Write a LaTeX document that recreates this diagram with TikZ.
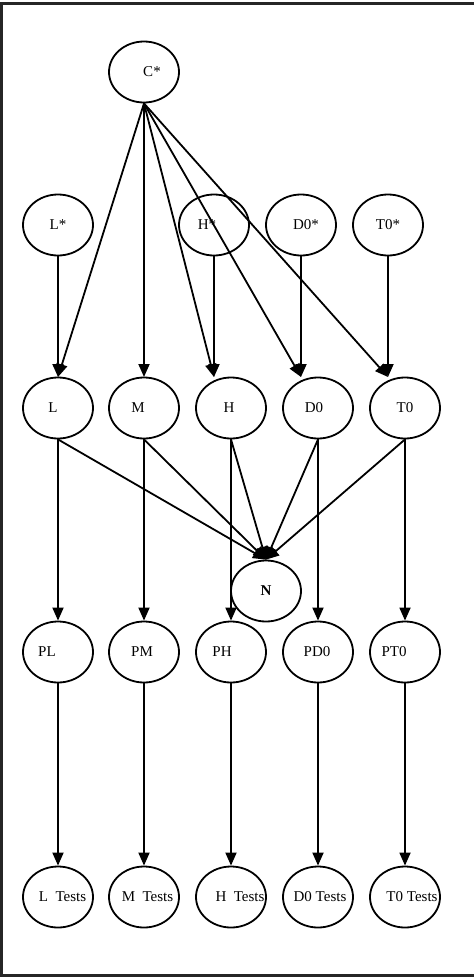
\documentclass[tikz,border=0pt]{standalone}
\usepackage{fontspec}
\setmainfont{Liberation Serif}
\usetikzlibrary{shapes.geometric,arrows.meta}
\newcommand\enode[5]{\node[ell,label={[tx,xshift=#4pt]center:#5}] (#1) at (#2,#3) {};}
\begin{document}
\begin{tikzpicture}[x=1pt,y=-1pt,
  ell/.style={draw,ellipse,line width=1.8pt,minimum width=70pt,minimum height=61pt,inner sep=0pt},
  tx/.style={font=\fontsize{15}{18}\selectfont,inner sep=0pt},
  arr/.style={line width=1.8pt,-{Triangle[length=13pt,width=11pt]}}]
\useasboundingbox (0,0) rectangle (474,977);
\draw[line width=3pt,black!85] (1.5,977) -- (1.5,3) -- (474,3);
\draw[line width=3pt,black!85] (0,975.5) -- (474,975.5);
% row 1
\enode{C}{144}{72}{8}{C*}
% row 2
\enode{Ls}{58}{225}{0}{L*}
\enode{Hs}{214}{225}{-7}{H*}
\enode{Ds}{301}{225}{5}{D0*}
\enode{Ts}{388}{225}{0}{T0*}
% row 3
\enode{L}{58}{408}{-5}{L}
\enode{M}{144}{408}{-6}{M}
\enode{H}{231}{408}{-2}{H}
\enode{D}{318}{408}{-4}{D0}
\enode{T}{405}{408}{0}{T0}
% N
\enode{N}{266}{591}{0}{\textbf{N}}
% row 4
\enode{PL}{58}{652}{-11}{PL}
\enode{PM}{144}{652}{-2}{PM}
\enode{PH}{231}{652}{-9}{PH}
\enode{PD}{318}{652}{-1}{PD0}
\enode{PT}{405}{652}{-11}{PT0}
% row 5
\enode{LT}{58}{897}{4.5}{L~~Tests}
\enode{MT}{144}{897}{3.5}{M~~Tests}
\enode{HT}{231}{897}{9}{H~~Tests}
\enode{DT}{318}{897}{2}{D0 Tests}
\enode{TT}{405}{897}{7}{T0 Tests}
% entry points
\coordinate (Lin) at (58,377);
\coordinate (Min) at (144,377);
\coordinate (Hin) at (214,377);
\coordinate (Din) at (301,377);
\coordinate (Tin) at (388,377);
% C* edges
\draw[arr] (C.south) -- (Lin);
\draw[arr] (C.south) -- (Min);
\draw[arr] (C.south) -- (Hin);
\draw[arr] (C.south) -- (Din);
\draw[arr] (C.south) -- (Tin);
% star edges
\draw[arr] (Ls.south) -- (Lin);
\draw[arr] (Hs.south) -- (Hin);
\draw[arr] (Ds.south) -- (Din);
\draw[arr] (Ts.south) -- (Tin);
% to N
\foreach \s in {L,M,H,D,T} \draw[arr] (\s.south) -- (N.north);
% to P
\draw[arr] (L.south) -- (PL.north);
\draw[arr] (M.south) -- (PM.north);
\draw[arr] (H.south) -- (PH.north);
\draw[arr] (D.south) -- (PD.north);
\draw[arr] (T.south) -- (PT.north);
% to tests
\draw[arr] (PL.south) -- (LT.north);
\draw[arr] (PM.south) -- (MT.north);
\draw[arr] (PH.south) -- (HT.north);
\draw[arr] (PD.south) -- (DT.north);
\draw[arr] (PT.south) -- (TT.north);
\end{tikzpicture}
\end{document}
